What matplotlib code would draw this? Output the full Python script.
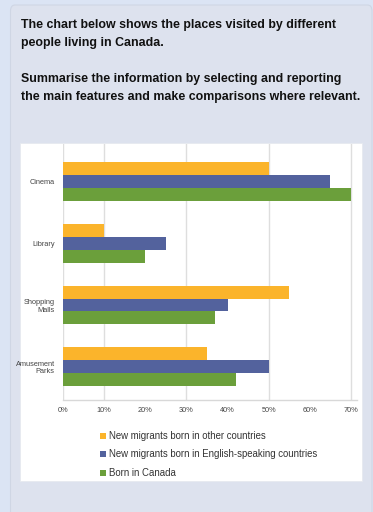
import matplotlib.pyplot as plt
import numpy as np
from matplotlib.patches import FancyBboxPatch, Rectangle

plt.rcParams['font.family'] = ['Liberation Sans', 'DejaVu Sans']

places = ["Cinema", "Library", "Shopping\nMalls", "Amusement\nParks"]
other_countries = [50, 10, 55, 35]
english_speaking = [65, 25, 40, 50]
born_canada = [70, 20, 37, 42]
series_names = ["New migrants born in other countries",
                "New migrants born in English-speaking countries",
                "Born in Canada"]
tick_values = [0, 10, 20, 30, 40, 50, 60, 70]
grid_values = [10, 30, 50, 70]

colors = ["#fbb42b", "#53629d", "#6b9f3b"]

W, H = 373, 512
fig = plt.figure(figsize=(W / 100, H / 100), dpi=100)
fig.patch.set_facecolor("#dbe4f4")


def box(x0, y0, x1, y1):
    # pixel coords (top-left origin) -> figure fraction
    return x0 / W, 1 - y1 / H, (x1 - x0) / W, (y1 - y0) / H


# card
x, y, w, h = box(10.5, 5, 372, 530)
fig.patches.append(FancyBboxPatch((x, y), w, h, boxstyle="round,pad=0,rounding_size=0.012",
                                  transform=fig.transFigure, facecolor="#dde2ee",
                                  edgecolor="#cfd6e4", lw=0.8, zorder=0))
# white chart panel
x, y, w, h = box(20, 143, 362, 481)
fig.patches.append(Rectangle((x, y), w, h, transform=fig.transFigure,
                             facecolor="white", edgecolor="#e6e9ef", lw=0.6, zorder=1))

prompt = [("The chart below shows the places visited by different", 25),
          ("people living in Canada.", 43),
          ("Summarise the information by selecting and reporting", 79),
          ("the main features and make comparisons where relevant.", 97)]
for txt, py in prompt:
    fig.text(21 / W, 1 - py / H, txt, fontsize=8.95, fontweight="bold",
             color="#111111", va="center", ha="left")

ax = fig.add_axes(box(63, 144, 357, 400))
ax.set_zorder(5)
ax.set_facecolor("none")
ypos = np.arange(len(places))
bh = 0.21
for vals, off, c in zip([other_countries, english_speaking, born_canada],
                        [-bh, 0, bh], colors):
    ax.barh(ypos + off, vals, height=bh, color=c, zorder=3)

ax.set_xlim(0, 70 * (357 - 63) / (351 - 63))
ax.set_ylim(3.54, -0.61)
for g in grid_values:
    ax.axvline(g, color="#dedede", lw=1.0, zorder=1)
ax.axvline(0, color="#dedede", lw=1.0, zorder=1)

ax.set_xticks(tick_values)
ax.set_xticklabels([f"{v}%" for v in tick_values])
ax.set_yticks(ypos)
ax.set_yticklabels(places, linespacing=1.15)
ax.tick_params(axis="both", length=0, labelsize=5.3, colors="#444444")
ax.tick_params(axis="x", pad=5)
ax.tick_params(axis="y", pad=6)
for s in ["top", "right", "left"]:
    ax.spines[s].set_visible(False)
ax.spines["bottom"].set_color("#d8d8d8")
ax.spines["bottom"].set_linewidth(1.0)

# legend
for i, (name, c) in enumerate(zip(series_names, colors)):
    py = 436 + i * 18.3
    fig.patches.append(Rectangle((100 / W, 1 - (py + 3) / H), 6 / W, 6 / H,
                                 transform=fig.transFigure, facecolor=c, zorder=3))
    fig.text(109 / W, 1 - py / H, name, fontsize=6.9, color="#333333",
             va="center", ha="left")

fig.savefig("out.png", dpi=100)
